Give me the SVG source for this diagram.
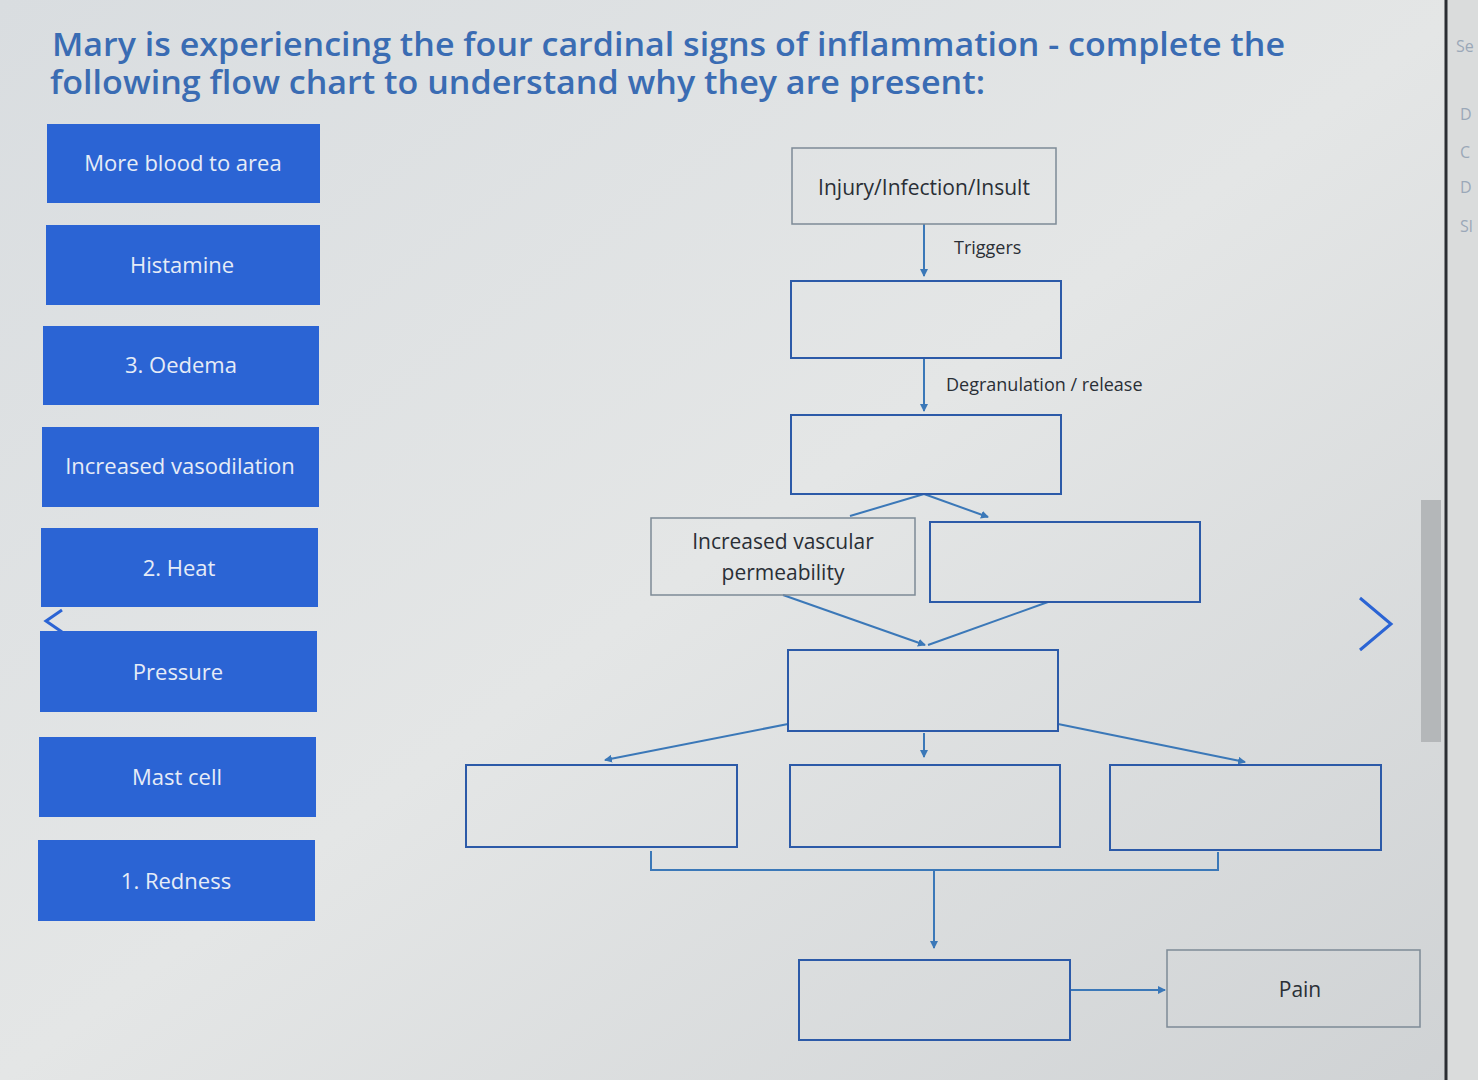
<svg xmlns="http://www.w3.org/2000/svg" width="1478" height="1080" viewBox="0 0 1478 1080">
<defs>
<linearGradient id="bg" x1="0" y1="0" x2="1" y2="1">
<stop offset="0" stop-color="#d9dde0"/><stop offset="0.5" stop-color="#e4e6e6"/><stop offset="1" stop-color="#cfd2d4"/>
</linearGradient>
<marker id="ar" markerWidth="8" markerHeight="8" refX="7" refY="4" orient="auto" markerUnits="userSpaceOnUse">
<path d="M0,0 L8,4 L0,8 Z" fill="#3b78b8"/>
</marker>
<style>
.btn{fill:#2b64d4}
.bt{font-family:"Open Sans","Liberation Sans",sans-serif;font-size:22px;fill:#e6ecf7;text-anchor:middle}
.fb{fill:none;stroke:#2c5aa8;stroke-width:2}
.gb{fill:none;stroke:#7d8a96;stroke-width:1.5}
.ft{font-family:"Open Sans","Liberation Sans",sans-serif;font-size:21px;fill:#2a2f36;text-anchor:middle}
.lb{font-family:"Open Sans","Liberation Sans",sans-serif;font-size:18px;fill:#2a2f36}
.c{fill:none;stroke:#3b78b8;stroke-width:2}
.t{font-family:"Open Sans","Liberation Sans",sans-serif;font-size:32px;font-weight:600;fill:#3a6cb3}
</style>
</defs>
<rect width="1478" height="1080" fill="url(#bg)"/>
<rect x="1445" y="0" width="33" height="1080" fill="#dadcdc"/>
<line x1="1446" y1="0" x2="1446" y2="1080" stroke="#2b2e33" stroke-width="3"/>
<rect x="1421" y="500" width="20" height="242" fill="#b4b7b9"/>
<g font-family="Open Sans,Liberation Sans,sans-serif" font-size="16" fill="#9aa8b8">
<text x="1456" y="52">Se</text><text x="1460" y="120">D</text><text x="1460" y="158">C</text><text x="1460" y="193">D</text><text x="1460" y="232">Sl</text>
</g>
<text class="t" x="52" y="56" textLength="1233" lengthAdjust="spacingAndGlyphs">Mary is experiencing the four cardinal signs of inflammation - complete the</text>
<text class="t" x="50" y="94" textLength="935" lengthAdjust="spacingAndGlyphs">following flow chart to understand why they are present:</text>
<g id="options">
<g id="o1"><rect class="btn" x="47" y="124" width="273" height="79"/><text class="bt" x="183" y="171">More blood to area</text></g>
<g id="o2"><rect class="btn" x="46" y="225" width="274" height="80"/><text class="bt" x="182" y="273">Histamine</text></g>
<g id="o3"><rect class="btn" x="43" y="326" width="276" height="79"/><text class="bt" x="181" y="373">3. Oedema</text></g>
<g id="o4"><rect class="btn" x="42" y="427" width="277" height="80"/><text class="bt" x="180" y="474" font-size="20">Increased vasodilation</text></g>
<g id="o5"><rect class="btn" x="41" y="528" width="277" height="79"/><text class="bt" x="179" y="576">2. Heat</text></g>
<g id="o6"><rect class="btn" x="40" y="631" width="277" height="81"/><text class="bt" x="178" y="680">Pressure</text></g>
<g id="o7"><rect class="btn" x="39" y="737" width="277" height="80"/><text class="bt" x="177" y="785">Mast cell</text></g>
<g id="o8"><rect class="btn" x="38" y="840" width="277" height="81"/><text class="bt" x="176" y="889">1. Redness</text></g>
</g>
<path d="M62,610 L46,621 L62,632" fill="none" stroke="#2b64d4" stroke-width="3"/>
<path d="M1360,598 L1391,624 L1360,650" fill="none" stroke="#2b64d4" stroke-width="3"/>
<g id="connectors">
<line class="c" x1="924" y1="224" x2="924" y2="276" marker-end="url(#ar)"/>
<line class="c" x1="924" y1="358" x2="924" y2="411" marker-end="url(#ar)"/>
<line class="c" x1="924" y1="494" x2="850" y2="516"/>
<line class="c" x1="924" y1="494" x2="988" y2="517" marker-end="url(#ar)"/>
<line class="c" x1="783" y1="595" x2="925" y2="645" marker-end="url(#ar)"/>
<line class="c" x1="1048" y1="602" x2="928" y2="645"/>
<line class="c" x1="788" y1="724" x2="605" y2="760" marker-end="url(#ar)"/>
<line class="c" x1="924" y1="733" x2="924" y2="757" marker-end="url(#ar)"/>
<line class="c" x1="1058" y1="724" x2="1245" y2="762" marker-end="url(#ar)"/>
<path class="c" d="M651,851 V870 H1218 V852"/>
<line class="c" x1="934" y1="870" x2="934" y2="948" marker-end="url(#ar)"/>
<line class="c" x1="1070" y1="990" x2="1165" y2="990" marker-end="url(#ar)"/>
<text class="lb" x="954" y="254">Triggers</text>
<text class="lb" x="946" y="391">Degranulation / release</text>
</g>
<g id="n1"><rect class="gb" x="792" y="148" width="264" height="76"/><text class="ft" x="924" y="195">Injury/Infection/Insult</text></g>
<g id="n2"><rect class="fb" x="791" y="281" width="270" height="77"/></g>
<g id="n3"><rect class="fb" x="791" y="415" width="270" height="79"/></g>
<g id="n4"><rect class="gb" x="651" y="518" width="264" height="77"/><text class="ft" x="783" y="549">Increased vascular</text><text class="ft" x="783" y="580">permeability</text></g>
<g id="n5"><rect class="fb" x="930" y="522" width="270" height="80"/></g>
<g id="n6"><rect class="fb" x="788" y="650" width="270" height="81"/></g>
<g id="n7"><rect class="fb" x="466" y="765" width="271" height="82"/></g>
<g id="n8"><rect class="fb" x="790" y="765" width="270" height="82"/></g>
<g id="n9"><rect class="fb" x="1110" y="765" width="271" height="85"/></g>
<g id="n10"><rect class="fb" x="799" y="960" width="271" height="80"/></g>
<g id="n11"><rect class="gb" x="1167" y="950" width="253" height="77"/><text class="ft" x="1300" y="997" font-size="20">Pain</text></g>
</svg>
